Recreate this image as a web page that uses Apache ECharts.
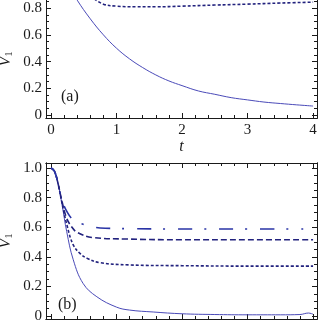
<!DOCTYPE html>
<html>
<head>
<meta charset="utf-8">
<script src="https://cdn.jsdelivr.net/npm/echarts@6/dist/echarts.min.js"></script>
<style>
html,body{margin:0;padding:0;background:#fff;}
#chart{width:320px;height:320px;}
</style>
</head>
<body>
<div id="chart"></div>
<script>
// panel (a)
var tA_solid = [0.3, 0.4, 0.6, 0.8, 1.0, 1.2, 1.4, 1.6, 1.8, 2.0, 2.25, 2.5, 2.75, 3.0, 3.25, 3.5, 3.75, 4.0];
var vA_solid = [0.95, 0.86, 0.72, 0.6, 0.5, 0.42, 0.355, 0.3, 0.255, 0.22, 0.18, 0.155, 0.13, 0.113, 0.097, 0.086, 0.076, 0.067];
var tA_dash = [0.66, 0.8, 1.0, 1.3, 1.6, 2.0, 2.5, 3.0, 3.5, 4.0];
var vA_dash = [0.87, 0.83, 0.815, 0.81, 0.81, 0.815, 0.823, 0.83, 0.838, 0.845];

// panel (b)
var tB_solid = [0, 0.05, 0.1, 0.17, 0.24, 0.34, 0.49, 0.7, 1.0, 1.2, 1.56, 2.0, 2.5, 3.0, 3.5, 3.8, 3.93, 4.0];
var vB_solid = [1.0, 0.98, 0.91, 0.75, 0.57, 0.38, 0.22, 0.13, 0.06, 0.04, 0.027, 0.015, 0.01, 0.008, 0.008, 0.01, 0.02, 0.012];
var tB_short = [0, 0.05, 0.1, 0.17, 0.24, 0.34, 0.45, 0.55, 0.75, 1.2, 2.0, 3.0, 4.0];
var vB_short = [1.0, 0.98, 0.91, 0.76, 0.62, 0.48, 0.42, 0.39, 0.36, 0.345, 0.34, 0.337, 0.337];
var tB_dash = [0, 0.05, 0.1, 0.17, 0.24, 0.32, 0.4, 0.64, 1.16, 2.0, 3.0, 4.0];
var vB_dash = [1.0, 0.98, 0.91, 0.77, 0.66, 0.6, 0.565, 0.53, 0.52, 0.515, 0.515, 0.515];
var tB_dashdot = [0, 0.05, 0.1, 0.17, 0.25, 0.34, 0.49, 0.75, 1.2, 2.0, 3.0, 3.85];
var vB_dashdot = [1.0, 0.98, 0.91, 0.78, 0.7, 0.65, 0.62, 0.595, 0.59, 0.588, 0.588, 0.588];

var xTicks = [0, 1, 2, 3, 4];
var yTicksA = [0, 0.2, 0.4, 0.6, 0.8];
var yTicksB = [0, 0.2, 0.4, 0.6, 0.8, 1.0];

function pairs(t, v) {
    return t.map(function (x, i) { return [x, v[i]]; });
}
function minor(from, to, step) {
    var out = [];
    for (var k = 0; from + k * step <= to + 1e-9; k++) out.push(+(from + k * step).toFixed(3));
    return out;
}

var serif = 'Liberation Serif';
var ink = '#1a1a1a';
var xMin = -0.076, xMax = 4.06;

function xAx(grid, pos, ticks, len, labels) {
    return {
        type: 'value', gridIndex: grid, position: pos, min: xMin, max: xMax,
        splitLine: {show: false},
        axisLine: {show: true, onZero: false, lineStyle: {color: ink, width: 1}},
        axisTick: {show: true, inside: true, length: len, customValues: ticks, lineStyle: {color: ink, width: 1}},
        axisLabel: {show: !!labels, customValues: labels || [0], margin: 5, fontFamily: serif, fontSize: 15, color: ink}
    };
}
function yAx(grid, pos, min, max, ticks, len, labels) {
    return {
        type: 'value', gridIndex: grid, position: pos, min: min, max: max,
        splitLine: {show: false},
        axisLine: {show: true, onZero: false, lineStyle: {color: ink, width: 1}},
        axisTick: {show: true, inside: true, length: len, customValues: ticks, lineStyle: {color: ink, width: 1}},
        axisLabel: {
            show: !!labels, customValues: labels || [0], margin: 4, fontFamily: serif, fontSize: 15, color: ink,
            formatter: function (v) { return v === 0 ? '0' : v.toFixed(1); }
        }
    };
}

var yMinA = -0.0225, yMaxA = 0.861;
var yMinB = -0.0203, yMaxB = 1.0338;

var xAxes = [
    xAx(0, 'bottom', xTicks, 5, xTicks),
    xAx(0, 'bottom', minor(0, 4, 0.2), 3),
    xAx(1, 'bottom', xTicks, 5),
    xAx(1, 'bottom', minor(0, 4, 0.2), 3),
    xAx(1, 'top', xTicks, 5),
    xAx(1, 'top', minor(0, 4, 0.2), 3)
];
xAxes[0].name = 't';
xAxes[0].nameLocation = 'middle';
xAxes[0].nameGap = 19;
xAxes[0].nameTextStyle = {fontFamily: serif, fontStyle: 'italic', fontSize: 16, color: ink};

var vName = {
    name: '{v|V}{s|1}', nameLocation: 'middle', nameRotate: 90, nameGap: 32, nameMoveOverlap: false,
    nameTextStyle: {rich: {
        v: {fontFamily: serif, fontStyle: 'italic', fontSize: 16, color: ink},
        s: {fontFamily: serif, fontSize: 10, color: ink, padding: [6, 0, 0, 0]}
    }}
};

var yAxes = [
    Object.assign(yAx(0, 'left', yMinA, yMaxA, yTicksA, 5, yTicksA), vName),
    yAx(0, 'left', yMinA, yMaxA, minor(0, 0.85, 0.05), 3),
    yAx(0, 'right', yMinA, yMaxA, yTicksA, 5),
    yAx(0, 'right', yMinA, yMaxA, minor(0, 0.85, 0.05), 3),
    Object.assign(yAx(1, 'left', yMinB, yMaxB, yTicksB, 5, yTicksB), vName),
    yAx(1, 'left', yMinB, yMaxB, minor(0, 1.0, 0.05), 3),
    yAx(1, 'right', yMinB, yMaxB, yTicksB, 5),
    yAx(1, 'right', yMinB, yMaxB, minor(0, 1.0, 0.05), 3)
];

var darkBlue = '#22227e';
var lightBlue = '#4a4ab8';

function line(xi, yi, data, color, width, type) {
    return {
        type: 'line', xAxisIndex: xi, yAxisIndex: yi, data: data,
        showSymbol: false, smooth: 0.4, clip: true, silent: true,
        lineStyle: {color: color, width: width, type: type}
    };
}

var myChart = echarts.init(document.getElementById('chart'), null, {renderer: 'canvas'});
var option = {
    animation: false,
    backgroundColor: '#fff',
    grid: [
        {left: 46, top: 0, width: 271, height: 118, outerBoundsMode: 'none', containLabel: false},
        {left: 46, top: 163, width: 271, height: 156, outerBoundsMode: 'none', containLabel: false}
    ],
    xAxis: xAxes,
    yAxis: yAxes,
    graphic: [
        {type: 'text', left: 61, top: 89, style: {text: '(a)', font: '16px "Liberation Serif"', fill: ink}},
        {type: 'text', left: 58, top: 297, style: {text: '(b)', font: '16px "Liberation Serif"', fill: ink}}
    ],
    series: [
        line(0, 0, pairs(tA_solid, vA_solid), lightBlue, 1, 'solid'),
        line(0, 0, pairs(tA_dash, vA_dash), darkBlue, 1.6, [3, 2]),
        line(2, 4, pairs(tB_solid, vB_solid), lightBlue, 1, 'solid'),
        line(2, 4, pairs(tB_short, vB_short), darkBlue, 1.6, [3, 2]),
        line(2, 4, pairs(tB_dash, vB_dash), darkBlue, 1.6, [6, 3]),
        line(2, 4, pairs(tB_dashdot, vB_dashdot), '#2a34a6', 1.6, [14, 12, 2, 13])
    ]
};
myChart.setOption(option);
window.onresize = function () {
    myChart.resize();
};
</script>
</body>
</html>
